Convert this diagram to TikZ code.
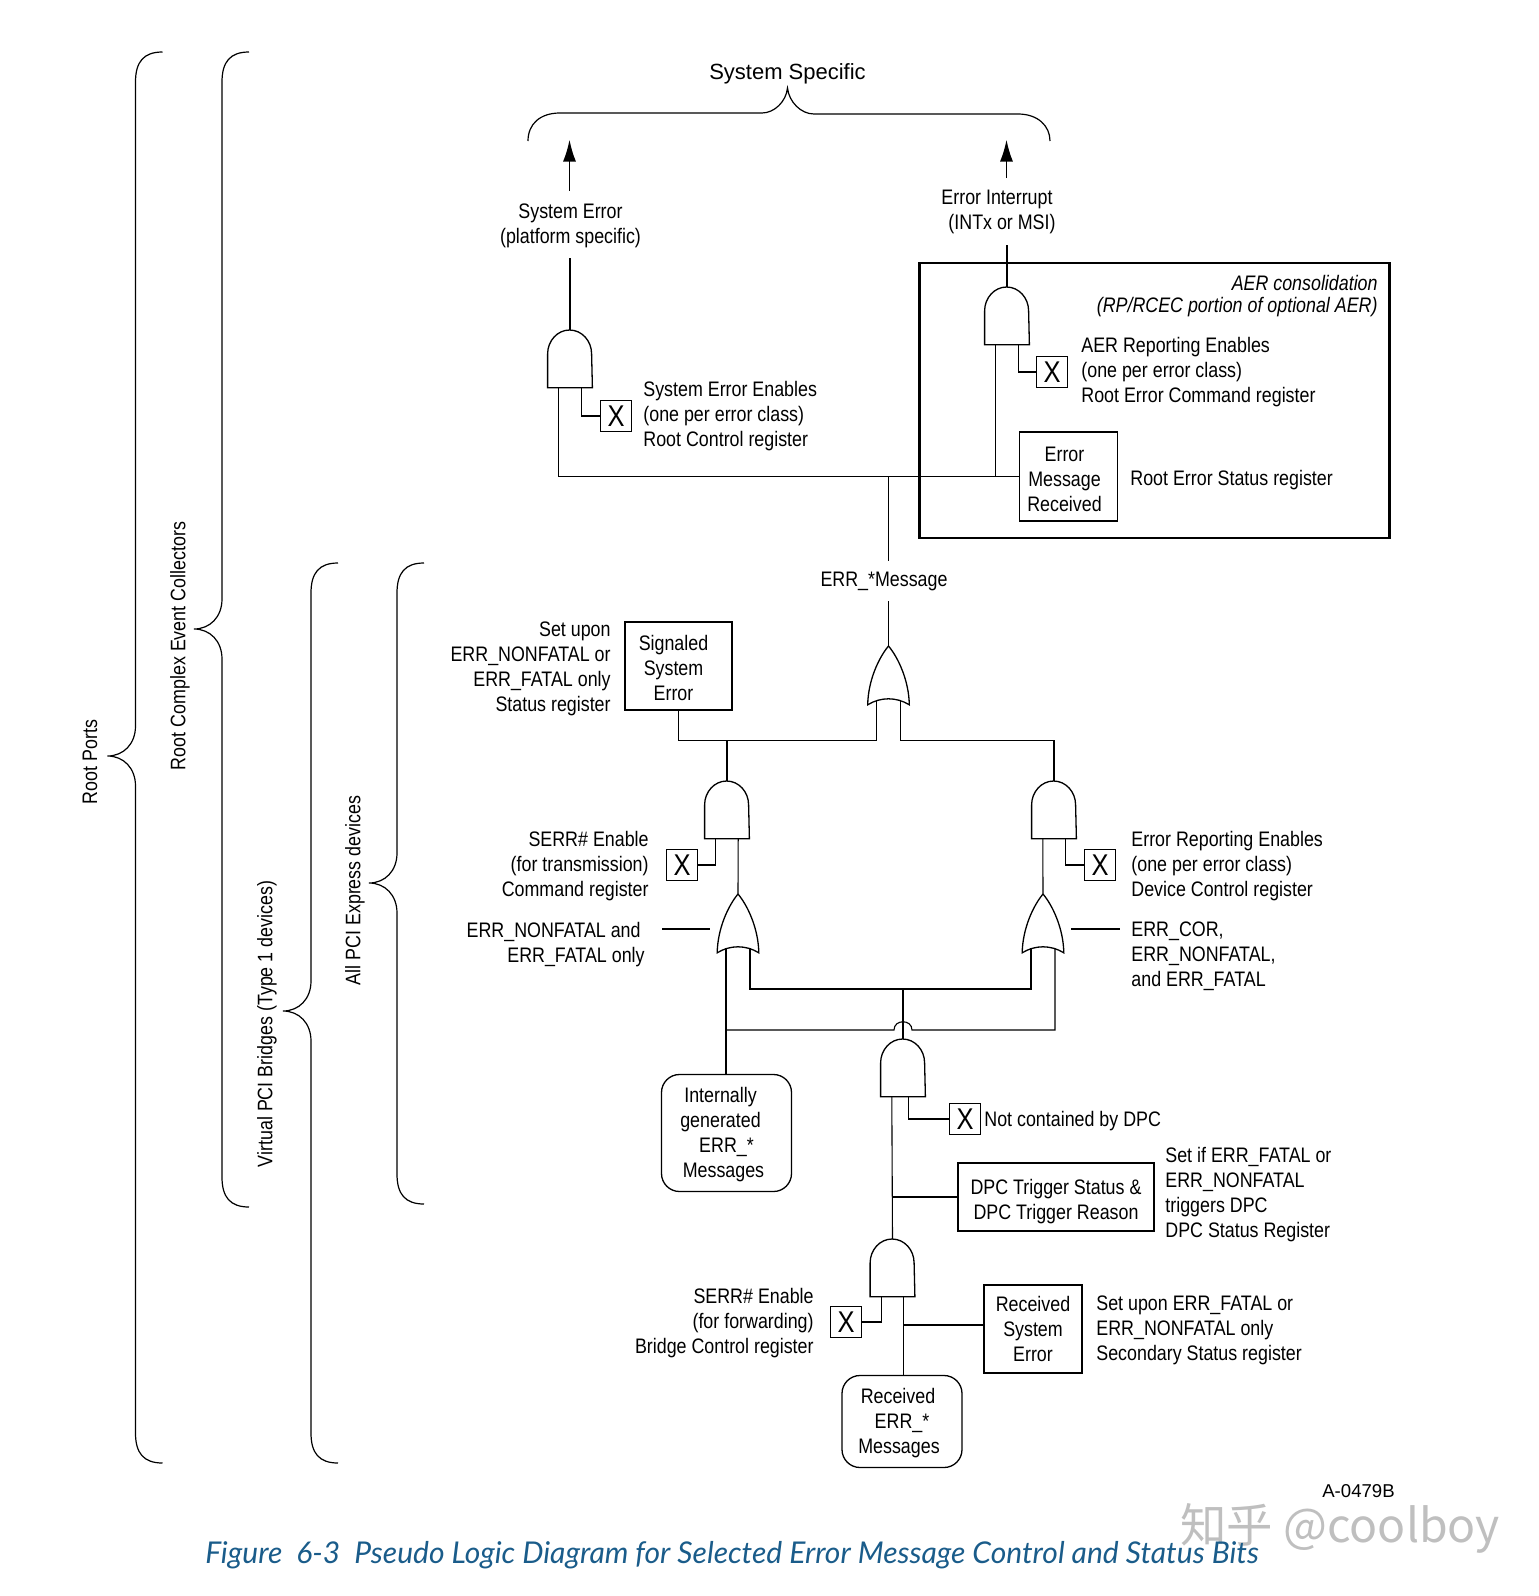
\documentclass[tikz,border=0pt]{standalone}
\usepackage{fontspec}
\setmainfont[FakeStretch=0.85]{Liberation Sans}
\newfontfamily\plainsans{Liberation Sans}
\newfontfamily\capfont{Lato}
\newfontfamily\cjkfont{Noto Sans CJK SC}
\usetikzlibrary{arrows.meta}

\definecolor{capblue}{HTML}{1A5C8A}
\newcommand{\toppad}{\rule{0pt}{9.6pt}}

\tikzset{
  every node/.style={font=\fontsize{10.5}{12.5}\selectfont, inner sep=0pt},
  andg/.style={anchor=north, minimum width=22pt, minimum height=28.5pt},
  org/.style={anchor=north, minimum width=20.4pt, minimum height=29pt},
  gateline/.style={line width=0.65pt},
  xbox/.style={draw, minimum width=15.3pt, minimum height=15.3pt, font=\fontsize{15}{15}\selectfont},
  regbox/.style={draw, align=center, line width=0.65pt},
  msgbox/.style={draw, align=center, rounded corners=9pt, line width=0.65pt},
  wire/.style={line width=0.55pt},
  heavy/.style={line width=0.95pt},
  brace/.style={line width=0.6pt},
}

\begin{document}
\begin{tikzpicture}[x=0.5pt,y=-0.5pt]
\useasboundingbox (0,0) rectangle (1538,1596);

% left braces: x of the stem, top, tip, bottom
\foreach \bx/\bt/\bm/\bb in {135.5/52/756/1463, 222/52/629/1207, 311/563/1011/1463, 397/563/883/1204}
{
  \draw[brace] (\bx+27,\bt) .. controls (\bx+8,\bt) and (\bx,\bt+10) .. (\bx,\bt+30)
    -- (\bx,\bm-30) .. controls (\bx,\bm-12) and (\bx-12,\bm) .. (\bx-28,\bm)
    .. controls (\bx-12,\bm) and (\bx,\bm+12) .. (\bx,\bm+30)
    -- (\bx,\bb-30) .. controls (\bx,\bb-10) and (\bx+8,\bb) .. (\bx+27,\bb);
}
\node[rotate=90] (rootports) at (90,762) {Root Ports};
\node[rotate=90] (rcec) at (180,646) {Root Complex Event Collectors};
\node[rotate=90] (vpci) at (267,1024) {Virtual PCI Bridges (Type 1 devices)};
\node[rotate=90] (allpci) at (355,890.5) {All PCI Express devices};

% top brace
\draw[brace] (528,141) .. controls (528,124) and (540,113) .. (560,113)
  -- (762,113) .. controls (774,113) and (786,102) .. (787.5,88)
  .. controls (789,102) and (801,114) .. (814,114)
  -- (1018,114) .. controls (1038,114) and (1050,126) .. (1050,141);
\node (sysspec) at (787.5,74) {\plainsans\fontsize{11}{13}\selectfont System Specific};

% aer box
\node[draw, line width=1.2pt, minimum width=235pt, minimum height=137.5pt] (aer) at (1154.5,400.5) {};
\node[anchor=east, align=right] (aerlbl) at (1378,296) {\itshape AER consolidation\\[-1.2pt] \itshape (RP/RCEC portion of optional AER)};

% gates
\node[andg] (seg) at (570,330) {};
\node[andg] (aerg) at (1007,287) {};
\node[org] (orm) at (888.5,646) {};
\node[andg] (agl) at (727,781) {};
\node[andg] (agr) at (1054,781) {};
\node[org] (ogl) at (738,894) {};
\node[org] (ogr) at (1043,894) {};
\node[andg] (dpcg) at (903,1039) {};
\node[andg] (lag) at (892.5,1239) {};

\foreach \g in {seg,aerg,agl,agr,dpcg,lag}
{
  \draw[gateline] (\g.south west) -- ([yshift=-12pt]\g.north west)
    arc[start angle=180, end angle=0, x radius=11pt, y radius=12pt]
    -- (\g.south east) -- cycle;
  \coordinate (\g-l) at ([xshift=-5.6pt]\g.south);
  \coordinate (\g-r) at ([xshift=5.6pt]\g.south);
}
\foreach \g in {orm,ogl,ogr}
{
  \draw[gateline] (\g.north)
    .. controls ([xshift=-5pt,yshift=-6pt]\g.north) and ([xshift=-10.2pt,yshift=12pt]\g.south) .. (\g.south west)
    .. controls ([xshift=-4pt,yshift=4pt]\g.south) and ([xshift=4pt,yshift=4pt]\g.south) .. (\g.south east)
    .. controls ([xshift=10.2pt,yshift=12pt]\g.south) and ([xshift=5pt,yshift=-6pt]\g.north) .. (\g.north);
  \coordinate (\g-l) at ([xshift=-6pt,yshift=2.4pt]\g.south);
  \coordinate (\g-r) at ([xshift=6pt,yshift=2.4pt]\g.south);
}

% x boxes
\node[xbox] (xse) at (616,416) {X};
\node[xbox] (xaer) at (1052,372) {X};
\node[xbox] (xl) at (682,865) {X};
\node[xbox] (xr) at (1100,865) {X};
\node[xbox] (xd) at (965,1119) {X};
\node[xbox] (xf) at (846,1322) {X};

% registers and messages
\node[regbox, minimum width=49pt, minimum height=44.5pt] (emr) at (1068.5,476.5) {\toppad Error\kern4pt\\Message\kern4pt\\Received\kern4pt};
\node[regbox, minimum width=53.5pt, minimum height=44pt] (sse) at (678.5,666) {\toppad Signaled\kern5pt\\System\kern5pt\\Error\kern5pt};
\node[regbox, minimum width=98pt, minimum height=34pt] (dtr) at (1056,1197) {\rule{0pt}{12pt}DPC Trigger Status \&\\DPC Trigger Reason};
\node[regbox, minimum width=49pt, minimum height=44pt] (rse) at (1033,1329) {Received\\System\\Error};
\node[msgbox, minimum width=65pt, minimum height=58.5pt] (igen) at (726.5,1133) {\toppad Internally\kern6pt\\generated\kern6pt\\ERR\_*\\Messages\kern3pt};
\node[msgbox, minimum width=60pt, minimum height=46pt] (rcv) at (902,1421.5) {\toppad Received\kern4pt\\ERR\_*\\Messages\kern3pt};

% labels
\node[align=center] (selbl) at (570.5,225.5) {System Error\\(platform specific)};
\node[align=center] (eilbl) at (997,212) {Error Interrupt\\\hspace*{5pt}(INTx or MSI)};
\node[anchor=west, align=left] (seen) at (643,416) {System Error Enables\\(one per error class)\\Root Control register};
\node[anchor=west, align=left] (aeren) at (1081,372.5) {AER Reporting Enables\\(one per error class)\\Root Error Command register};
\node[anchor=west] (resr) at (1130,480) {Root Error Status register};
\node[minimum height=20pt] (msg) at (884,581) {ERR\_*Message};
\node[anchor=east, align=right] (setup) at (611,669) {Set upon\\ERR\_NONFATAL or\\ERR\_FATAL only\\Status register};
\node[anchor=east, align=right] (serrt) at (649,866) {SERR\# Enable\\(for transmission)\\Command register};
\node[anchor=west, align=left] (erren) at (1131,866) {Error Reporting Enables\\(one per error class)\\Device Control register};
\node[anchor=east, align=right] (nfl) at (645,945) {ERR\_NONFATAL and\hspace*{2pt}\\ERR\_FATAL only};
\node[anchor=west, align=left] (cor) at (1131,956.5) {ERR\_COR,\\ERR\_NONFATAL,\\and ERR\_FATAL};
\node[anchor=west] (ncd) at (984,1121) {Not contained by DPC};
\node[anchor=west, align=left] (setif) at (1165,1195) {Set if ERR\_FATAL or\\ERR\_NONFATAL\\triggers DPC\\DPC Status Register};
\node[anchor=west, align=left] (setu2) at (1096,1330.5) {Set upon ERR\_FATAL or\\ERR\_NONFATAL only\\Secondary Status register};
\node[anchor=east, align=right] (serrf) at (814,1323) {SERR\# Enable\\(for forwarding)\\Bridge Control register};

\node (anum) at (1358.5,1491.5) {\plainsans\fontsize{9.3}{11}\selectfont A-0479B};
\node (mark) at (1340,1528) {\color{black!25}\fontsize{23.2}{28}\selectfont\cjkfont 知乎 @coolboy};
\node (caption) at (732,1555) {\capfont\itshape\color{capblue}\fontsize{15}{18}\selectfont Figure~~6-3~~Pseudo Logic Diagram for Selected Error Message Control and Status Bits};

% free ends
\coordinate (sea) at (569.5,190.5);
\coordinate (setip) at (569.5,139.5);
\coordinate (sel) at (570,258);
\coordinate (eia) at (1006.5,178);
\coordinate (eitip) at (1006.5,139.5);
\coordinate (eil) at (1007,245);
\coordinate (jm) at (orm.north |- emr.west);
\coordinate (jsl) at (orm-l |- 0,740.7);
\coordinate (jsr) at (orm-r |- 0,740.7);
\coordinate (jg) at (dpcg.north |- 0,989);
\coordinate (hl) at (ogl-l |- 0,1030);
\coordinate (jd) at (lag.north |- dtr.west);
\coordinate (jf) at (lag-r |- 0,1325);
\coordinate (dl1) at (662,929);
\coordinate (dl2) at (710,929);
\coordinate (dr1) at (1071,929);
\coordinate (dr2) at (1120,929);

% connectors
\draw[heavy, -{Latex[length=11pt,width=6.5pt]}] (sea) -- (setip);
\draw[heavy, -{Latex[length=11pt,width=6.5pt]}] (eia) -- (eitip);
\draw[heavy] (sel) -- (seg.north);
\draw[heavy] (eil) -- (aerg.north);
\draw[wire] (seg-l) |- (emr);
\draw[wire] (seg-r) |- (xse);
\draw[wire] (aerg-l) -- (aerg-l |- emr);
\draw[wire] (aerg-r) |- (xaer);
\draw[wire] (jm) -- (jm |- msg.north);
\draw[wire] (jm |- msg.south) -- (orm.north);
\draw[wire] (sse) |- (jsl) -- (orm-l);
\draw[wire] (orm-r) -- (jsr) -| (agr.north);
\draw[wire] (agl.north) -- (agl.north |- jsl);
\draw[wire] (agl-r) -- (ogl.north);
\draw[wire] (agr-l) -- (ogr.north);
\draw[wire] (agl-l) |- (xl);
\draw[wire] (agr-r) |- (xr);
\draw[heavy] (dl1) -- (dl2);
\draw[heavy] (dr1) -- (dr2);
\draw[wire] (ogl-l) -- (ogl-l |- igen.north);
\draw[wire] (ogl-r) |- (jg) -| (ogr-l);
\draw[wire] (jg) -- (dpcg.north);
\draw[wire] (hl) -- (894,1030) .. controls (894,1019) and (912,1019) .. (912,1030) -| (ogr-r);
\draw[wire] (dpcg-l) -- (lag.north);
\draw[wire] ([xshift=-3pt]dpcg-r) |- (xd);
\draw[wire] (jd) -- (dtr);
\draw[wire] (lag-l) |- (xf);
\draw[wire] (lag-r) -- (lag-r |- rcv.north);
\draw[wire] (jf) -- (jf -| rse.west);
\end{tikzpicture}
\end{document}
